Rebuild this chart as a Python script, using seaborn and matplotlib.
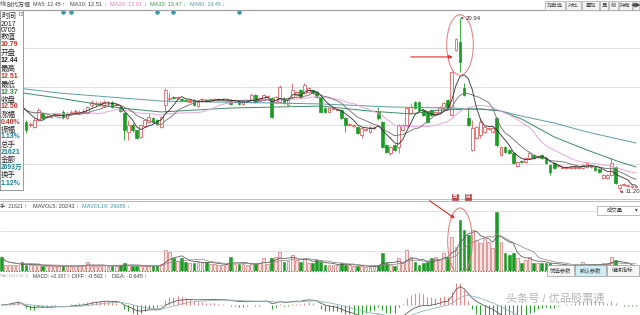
import numpy as np
import pandas as pd
import matplotlib
matplotlib.use("Agg")
import matplotlib.pyplot as plt
import seaborn as sns
from matplotlib.patches import Ellipse, Rectangle
from matplotlib import font_manager

sns.set_theme(style="white")
_names = {f.name for f in font_manager.fontManager.ttflist}
_latin = 'Liberation Sans Narrow' if 'Liberation Sans Narrow' in _names else 'Liberation Sans'
plt.rcParams['font.family'] = [_latin, 'Noto Sans CJK SC', 'DejaVu Sans']
plt.rcParams['axes.unicode_minus'] = False

# ---------------- data ----------------
open_ = [16.00, 15.70, 15.88, 16.05, 16.22, 16.46, 15.12, 14.95, 14.84, 15.23,
         15.62, 15.40, 15.40, 15.51, 15.51, 15.68, 15.34, 15.62, 15.68, 15.62,
         15.68, 15.62, 16.07, 16.13, 16.13, 16.01, 16.13, 16.24, 16.07, 15.96,
         15.62, 14.56, 14.95, 14.67, 14.28, 14.89, 15.12, 15.34, 15.23, 14.84,
         16.07, 16.41, 16.52, 16.46, 16.41, 16.35, 16.24, 16.35, 16.01, 16.29,
         16.35, 16.29, 16.35, 16.35, 16.35, 16.29, 16.35, 16.24, 16.29, 16.13,
         16.29, 16.24, 16.63, 16.29, 16.35, 16.52, 16.46, 16.24, 16.24, 16.46,
         16.07, 16.52, 16.63, 16.91, 16.74, 16.80, 16.91, 16.80, 16.52, 15.90,
         15.68, 15.85, 15.79, 15.79, 15.34, 14.95, 14.89, 14.84, 14.39, 14.67,
         14.56, 14.78, 15.68, 15.12, 13.83, 13.38, 13.83, 13.72, 14.67, 14.95,
         15.62, 16.24, 16.24, 15.79, 15.68, 15.79, 15.51, 15.62, 15.90, 16.35,
         15.51, 19.15, 19.60, 17.02, 15.34, 13.55, 14.22, 14.39, 14.56, 14.73,
         14.56, 15.34, 13.27, 13.72, 13.55, 13.38, 12.65, 12.93, 12.88, 13.10,
         13.27, 13.16, 13.27, 13.10, 12.71, 12.82, 12.65, 12.54, 12.54, 12.54,
         12.54, 12.54, 12.54, 12.60, 12.60, 12.60, 12.48, 11.98, 11.98, 12.15,
         12.60, 11.42, 11.59, 11.53, 11.48, 11.48]
high = [16.10, 15.95, 16.12, 16.30, 16.48, 16.52, 15.23, 15.12, 15.34, 15.90,
        15.68, 15.51, 15.51, 15.62, 15.62, 15.79, 15.68, 15.79, 15.85, 15.79,
        15.85, 16.01, 16.35, 16.29, 16.29, 16.35, 16.29, 16.29, 16.18, 16.01,
        15.68, 15.23, 15.06, 14.73, 15.01, 15.29, 15.62, 15.40, 15.29, 15.45,
        17.02, 16.80, 16.57, 16.57, 16.46, 16.41, 16.41, 16.41, 16.29, 16.41,
        16.41, 16.46, 16.46, 16.46, 16.46, 16.41, 16.41, 16.35, 16.35, 16.35,
        16.41, 16.74, 16.69, 16.52, 16.69, 16.63, 16.52, 16.57, 17.19, 16.52,
        16.52, 17.30, 16.85, 16.96, 17.30, 17.08, 16.96, 16.85, 16.57, 15.96,
        15.96, 15.96, 15.90, 15.85, 15.40, 15.06, 15.01, 14.89, 14.84, 14.78,
        14.89, 14.89, 15.96, 15.17, 13.89, 13.77, 13.89, 15.01, 15.01, 15.96,
        16.18, 16.29, 16.29, 15.85, 15.73, 15.85, 15.73, 16.01, 16.24, 16.41,
        17.97, 19.82, 20.94, 17.30, 15.90, 15.23, 14.89, 15.34, 14.89, 14.84,
        14.84, 15.40, 13.77, 13.77, 13.60, 13.44, 12.93, 12.99, 13.16, 13.44,
        13.33, 13.27, 13.33, 13.16, 12.76, 12.88, 12.76, 12.65, 12.65, 12.65,
        12.65, 12.65, 12.76, 12.88, 12.71, 12.65, 12.54, 12.21, 12.21, 13.10,
        12.65, 11.65, 11.70, 11.65, 11.59, 11.59]
low = [15.62, 15.65, 15.82, 16.00, 16.18, 15.23, 14.50, 14.84, 14.78, 15.17,
       15.29, 15.34, 15.34, 15.45, 15.45, 15.29, 15.29, 15.57, 15.62, 15.57,
       15.62, 15.57, 15.96, 16.01, 16.01, 15.96, 16.01, 15.90, 16.01, 15.68,
       14.11, 14.11, 14.56, 14.17, 14.22, 14.84, 15.06, 15.06, 14.95, 14.78,
       15.68, 16.24, 16.41, 16.41, 16.29, 16.24, 16.18, 16.01, 15.96, 16.24,
       16.24, 16.24, 16.29, 16.29, 16.29, 16.24, 16.07, 16.18, 16.07, 16.07,
       16.24, 16.18, 16.18, 16.24, 16.29, 16.46, 15.34, 16.18, 16.18, 16.13,
       16.01, 16.46, 16.57, 16.46, 16.69, 16.74, 16.69, 16.46, 15.62, 15.62,
       15.62, 15.79, 15.73, 15.29, 14.56, 14.89, 14.84, 14.45, 14.22, 14.61,
       14.50, 14.73, 15.23, 13.66, 13.38, 13.27, 13.49, 13.38, 14.61, 14.84,
       15.57, 15.85, 15.73, 15.45, 15.06, 15.45, 15.45, 15.57, 15.85, 15.90,
       15.45, 19.09, 17.92, 16.57, 14.89, 13.50, 14.17, 14.22, 14.50, 14.67,
       14.50, 13.72, 13.21, 13.38, 13.33, 12.76, 12.60, 12.82, 12.82, 13.05,
       13.05, 13.10, 13.05, 12.76, 12.15, 12.48, 12.60, 12.48, 12.48, 12.48,
       12.48, 12.48, 12.48, 12.54, 12.54, 12.37, 12.26, 11.93, 11.93, 12.09,
       11.65, 11.20, 11.53, 11.48, 11.42, 11.42]
close = [15.70, 15.88, 16.05, 16.22, 16.40, 15.51, 14.67, 15.01, 15.23, 15.79,
         15.34, 15.45, 15.45, 15.57, 15.57, 15.40, 15.57, 15.68, 15.73, 15.68,
         15.73, 15.96, 16.24, 16.18, 16.18, 16.24, 16.18, 15.96, 16.13, 15.73,
         14.67, 14.95, 14.67, 14.22, 14.95, 15.23, 15.40, 15.12, 15.01, 15.40,
         16.91, 16.46, 16.46, 16.52, 16.35, 16.29, 16.35, 16.07, 16.24, 16.35,
         16.29, 16.41, 16.41, 16.41, 16.41, 16.35, 16.13, 16.29, 16.13, 16.29,
         16.35, 16.63, 16.24, 16.46, 16.63, 16.57, 15.40, 16.52, 17.08, 16.18,
         16.46, 16.91, 16.80, 16.52, 17.19, 17.02, 16.74, 16.52, 15.68, 15.68,
         15.90, 15.90, 15.85, 15.34, 14.95, 15.01, 14.95, 14.50, 14.78, 14.73,
         14.84, 14.84, 15.34, 13.72, 13.44, 13.72, 13.55, 14.95, 14.95, 15.90,
         15.96, 15.90, 15.79, 15.51, 15.12, 15.51, 15.68, 15.96, 16.18, 15.96,
         17.92, 19.77, 18.48, 16.63, 14.95, 14.78, 14.84, 15.12, 14.84, 14.78,
         14.78, 13.83, 13.72, 13.44, 13.38, 12.82, 12.88, 12.88, 13.10, 13.38,
         13.10, 13.21, 13.10, 12.82, 12.32, 12.54, 12.71, 12.60, 12.60, 12.60,
         12.60, 12.60, 12.71, 12.82, 12.65, 12.43, 12.32, 12.15, 12.15, 12.82,
         11.70, 11.59, 11.65, 11.59, 11.53, 11.53]
volume = [28000, 12000, 12000, 12000, 12000, 18000, 12000, 12000, 12000, 12000,
          10000, 10000, 10000, 10000, 10000, 10000, 10000, 10000, 10000, 10000,
          12000, 18000, 10000, 10000, 10000, 12000, 10000, 10000, 10000, 12000,
          16000, 12000, 10000, 10000, 10000, 10000, 10000, 10000, 10000, 14000,
          42000, 38000, 26000, 20000, 26000, 18000, 16000, 16000, 18000, 18000,
          18000, 14000, 14000, 12000, 12000, 14000, 28000, 14000, 14000, 14000,
          12000, 16000, 14000, 16000, 26000, 14000, 26000, 28000, 38000, 18000,
          20000, 32000, 22000, 18000, 26000, 16000, 16000, 22000, 18000, 12000,
          12000, 12000, 12000, 16000, 12000, 12000, 10000, 10000, 10000, 8000,
          8000, 10000, 12000, 36000, 16000, 12000, 10000, 26000, 16000, 42000,
          28000, 18000, 12000, 16000, 18000, 26000, 28000, 22000, 36000, 28000,
          68000, 48000, 102000, 82000, 72000, 82000, 62000, 56000, 66000, 58000,
          46000, 118000, 58000, 36000, 32000, 36000, 26000, 16000, 22000, 28000,
          16000, 16000, 16000, 16000, 16000, 12000, 12000, 12000, 10000, 10000,
          10000, 12000, 18000, 12000, 12000, 12000, 12000, 16000, 16000, 28000,
          22000, 12000, 10000, 10000, 8000, 10000]
ma30_idx = [0, 14, 29, 39, 56, 78, 90, 100, 107, 117, 122, 127, 135, 143, 151, 155]
ma30_val = [16.91, 16.46, 15.90, 15.68, 15.90, 16.01, 15.73, 15.57, 15.79, 15.85,
            15.73, 15.29, 14.28, 13.55, 12.88, 12.60]
ma60_idx = [0, 14, 39, 78, 95, 110, 121, 127, 135, 143, 155]
ma60_val = [17.13, 16.74, 16.29, 16.13, 15.96, 15.90, 15.79, 15.45, 15.06, 14.56, 13.94]
event_idx = [15, 17, 38, 42, 58]
price_grid = [12.77, 14.93, 17.09, 19.25]
vol_grid = [40000, 80000, 120000]
info_labels = ['时间', '数值', '开盘', '最高', '最低', '收盘', '涨幅', '振幅', '总手', '金额', '换手']
info_date = ['2017', '0705']
info_values = ['10.79', '12.44', '12.51', '12.37', '12.50', '0.40%', '1.13%', '21621', '2693万', '1.12%']
header_ma = ['MA5: 12.45', 'MA10: 12.51', 'MA20: 12.81', 'MA30: 13.47', 'MA60: 14.45']
header_vol = ['手: 21621', 'MAVOL5: 20243', 'MAVOL10: 29088']
header_macd = ['MACD(12,26,9)', 'MACD: +0.107', 'DIFF: -0.592', 'DEA: -0.645']

# ---------------- derived ----------------
df = pd.DataFrame({'open': open_, 'high': high, 'low': low, 'close': close, 'volume': volume})
n = len(df)
idx = np.arange(n)
df['ma5'] = df['close'].rolling(5, min_periods=1).mean()
df['ma10'] = df['close'].rolling(10, min_periods=1).mean()
df['ma20'] = df['close'].rolling(20, min_periods=1).mean()
df['mv5'] = df['volume'].rolling(5, min_periods=1).mean()
df['mv10'] = df['volume'].rolling(10, min_periods=1).mean()
ema12 = df['close'].ewm(span=12, adjust=False).mean()
ema26 = df['close'].ewm(span=26, adjust=False).mean()
df['diff'] = ema12 - ema26
df['dea'] = df['diff'].ewm(span=9, adjust=False).mean()
df['macd'] = 2 * (df['diff'] - df['dea'])

o = df['open'].to_numpy(); c = df['close'].to_numpy()
h = df['high'].to_numpy(); l = df['low'].to_numpy()
v = df['volume'].to_numpy()
up = c >= o

RED = '#e06060'
GREEN = '#1c9c24'
W, H = 640, 315

fig = plt.figure(figsize=(6.4, 3.15), dpi=100)
fig.patch.set_facecolor('white')
renderer = fig.canvas.get_renderer()


def rect(x0, y0, x1, y1):
    return [x0 / W, 1 - y1 / H, (x1 - x0) / W, (y1 - y0) / H]


def ft(x, y, s, size=4.3, color='#3a3a3a', ha='left', weight='normal', **kw):
    return fig.text(x / W, 1 - y / H, s, fontsize=size, color=color, ha=ha, va='center',
                    fontweight=weight, zorder=12, **kw)


def fit(x0, x1, y, s, color='#3a3a3a', size=4.6, arrow=None, acolor='#e03030'):
    """Text from x0 that is shrunk to end by x1, then an arrow right after it."""
    t = ft(x0, y, s, size=size, color=color)
    w = t.get_window_extent(renderer=renderer).width
    if w > (x1 - x0):
        t.set_fontsize(size * (x1 - x0) / w)
    if arrow:
        xe = t.get_window_extent(renderer=renderer).x1
        ft(xe + 0.6, y, arrow, size=size, color=acolor)
    return t


def prect(x0, y0, x1, y1, fc='white', ec='#a0a0a0', lw=0.5, z=11):
    fig.add_artist(Rectangle((x0 / W, 1 - y1 / H), (x1 - x0) / W, (y1 - y0) / H,
                             transform=fig.transFigure, facecolor=fc, edgecolor=ec,
                             linewidth=lw, zorder=z))


XL = (-0.37, 155.97)
ax = fig.add_axes(rect(0, 10, 640, 199))
axv = fig.add_axes(rect(0, 201, 640, 271))
axm = fig.add_axes(rect(0, 272, 640, 315))

# ---------------- price panel ----------------
ax.vlines(idx, l, h, colors=np.where(up, RED, GREEN), lw=0.6, zorder=2)
ax.bar(idx[up], np.maximum(c[up] - o[up], 0.025), bottom=o[up], width=0.68,
       facecolor='white', edgecolor=RED, linewidth=0.6, zorder=3)
ax.bar(idx[~up], np.maximum(o[~up] - c[~up], 0.025), bottom=c[~up], width=0.68,
       facecolor=GREEN, edgecolor=GREEN, linewidth=0.5, zorder=3)
sns.lineplot(x=ma60_idx, y=ma60_val, ax=ax, color='#5f9ca4', lw=0.7, zorder=4)
sns.lineplot(x=ma30_idx, y=ma30_val, ax=ax, color='#3f8a66', lw=0.7, zorder=4)
sns.lineplot(x=idx, y=df['ma20'], ax=ax, color='#e8a6d8', lw=0.7, zorder=4)
sns.lineplot(x=idx, y=df['ma10'], ax=ax, color='#6e6e6e', lw=0.6, zorder=4)
sns.lineplot(x=idx, y=df['ma5'], ax=ax, color='#2e2e2e', lw=0.6, zorder=4)
ax.plot(event_idx, [0.988] * len(event_idx), ls='none', marker='D', ms=2.0,
        color='#3a9aa8', transform=ax.get_xaxis_transform(), clip_on=False, zorder=5)

ax.set_xlim(*XL)
ax.set_ylim(10.806, 21.388)
ax.set_yticks(price_grid)
ax.grid(axis='y', color='#dadada', lw=0.6)
ax.tick_params(left=False, labelleft=False, bottom=False, labelbottom=False)
ax.set_xlabel(''); ax.set_ylabel('')
for s in ['left', 'right']:
    ax.spines[s].set_visible(False)
ax.spines['top'].set_color('#9a9a9a'); ax.spines['top'].set_linewidth(0.8)
ax.spines['bottom'].set_color('#b8b8b8'); ax.spines['bottom'].set_linewidth(0.6)

spike = int(np.argmax(h))
lowi = int(np.argmin(l))
ax.add_patch(Ellipse((spike, (h[spike] + l[spike]) / 2), width=6.5,
                     height=(h[spike] - l[spike]) * 1.12, fill=False,
                     edgecolor='#e07878', lw=0.7, zorder=6))
ax.annotate('', xy=(spike - 1.1, c[spike] + 0.28), xytext=(spike - 12.7, c[spike] + 0.28),
            arrowprops=dict(arrowstyle='-|>', color='#e03030', lw=0.8, mutation_scale=5), zorder=6)
ax.annotate(f'{h[spike]:.2f}', xy=(spike + 0.15, h[spike]), xytext=(spike + 1.4, h[spike]),
            fontsize=4.3, color='#333333', va='center',
            arrowprops=dict(arrowstyle='->', color='#333333', lw=0.5, mutation_scale=3), zorder=6)
ax.annotate(f'{l[lowi]:.2f}', xy=(lowi + 0.2, l[lowi]), xytext=(lowi + 1.5, l[lowi]),
            fontsize=4.3, color='#333333', va='center', annotation_clip=False,
            arrowprops=dict(arrowstyle='->', color='#333333', lw=0.5, mutation_scale=3), zorder=6)

# ---------------- volume panel ----------------
axv.bar(idx[up], v[up], width=0.68, facecolor='#f8e4e4', edgecolor='#d87878', linewidth=0.5, zorder=3)
axv.bar(idx[~up], v[~up], width=0.68, facecolor=GREEN, edgecolor=GREEN, linewidth=0.4, zorder=3)
sns.lineplot(x=idx, y=df['mv5'], ax=axv, color='#555555', lw=0.55, zorder=4)
sns.lineplot(x=idx, y=df['mv10'], ax=axv, color='#8a8a8a', lw=0.55, zorder=4)
axv.set_xlim(*XL)
axv.set_ylim(0, 140000)
axv.set_yticks(vol_grid)
axv.grid(axis='y', color='#dadada', lw=0.6)
axv.tick_params(left=False, labelleft=False, bottom=False, labelbottom=False)
axv.set_xlabel(''); axv.set_ylabel('')
for s in ['left', 'right', 'bottom']:
    axv.spines[s].set_visible(False)
axv.spines['top'].set_color('#b0b0b0'); axv.spines['top'].set_linewidth(0.6)
axv.axhline(0, color='#2ea02e', lw=0.8, ls=(0, (1.2, 1.2)), zorder=5, clip_on=False)
axv.add_patch(Ellipse((spike, v[spike] * 0.58), width=6.0, height=v[spike] * 1.31,
                      fill=False, edgecolor='#e07878', lw=0.7, zorder=6, clip_on=False))
axv.annotate('', xy=(spike - 0.7, v[spike]), xytext=(spike - 8, v[spike] * 1.41),
             annotation_clip=False,
             arrowprops=dict(arrowstyle='-|>', color='#e03030', lw=0.8, mutation_scale=5), zorder=6)

# ---------------- MACD panel ----------------
mv = df['macd'].to_numpy()
axm.vlines(idx, 0, mv, colors=np.where(mv >= 0, '#e48a8a', '#2ea02e'), lw=0.8, zorder=3)
sns.lineplot(x=idx, y=df['diff'], ax=axm, color='#5a5a5a', lw=0.6, zorder=4)
sns.lineplot(x=idx, y=df['dea'], ax=axm, color='#8fb4bc', lw=0.6, zorder=4)
M = max(df['diff'].max(), df['macd'].max())
top = M * 33 / 22
axm.set_xlim(*XL)
axm.set_ylim(-top * 10 / 33, top)
axm.tick_params(left=False, labelleft=False, bottom=False, labelbottom=False)
axm.set_xlabel(''); axm.set_ylabel('')
for s in axm.spines.values():
    s.set_visible(False)

# ---------------- texts / chrome ----------------
ft(0, 5, '线', size=4.4)
fit(7, 31, 5, '时代万恒', size=4.4)
ma_span = [(33, 61), (70, 102), (110, 142), (150, 181), (190, 221)]
ma_col = ['#404040', '#404040', '#e07cc4', '#3a9a4a', '#5a90a8']
for i, s in enumerate(header_ma):
    fit(ma_span[i][0], ma_span[i][1], 5, s, color=ma_col[i],
        arrow='↑' if i == 0 else '↓', acolor='#e03030' if i == 0 else '#48b8b0')
fig.add_artist(plt.Line2D([0, 1], [1 - 10 / H] * 2, transform=fig.transFigure,
                          color='#a0a0a0', lw=0.8, zorder=10))

btn = ['加自选', '对比', '叠加', '显', '前', '持牌', '◀▶']
bx = [545, 566, 582, 600, 609, 619, 633, 640]
for i, s in enumerate(btn):
    prect(bx[i], 1, bx[i + 1] - 1, 9.5, fc='#f4f4f4', ec='#a8a8a8')
    ft((bx[i] + bx[i + 1] - 1) / 2, 5.3, s, size=3.8, ha='center', color='#404040')

# info panel overlay
axi = fig.add_axes(rect(0, 10, 23, 190), zorder=8)
axi.set_facecolor('white')
axi.set_xticks([]); axi.set_yticks([])
for s in axi.spines.values():
    s.set_color('#8a8a8a'); s.set_linewidth(0.6)
lab_y = [16, 37, 53, 69, 85, 100, 115, 130, 145, 160, 175]
val_y = [45, 61, 77, 92, 107, 122, 137, 152, 167, 183]
val_col = ['#c83232', '#222222', '#c83232', '#1f8f2f', '#c83232', '#c83232',
           '#1a7f9a', '#1a7f9a', '#1a7f9a', '#1a7f9a']
for s, y in zip(info_labels, lab_y):
    ft(1, y, s, size=5.4, color='#303030')
fit(1, 18, 24, info_date[0], size=5.0, color='#202020')
fit(1, 18, 30.5, info_date[1], size=5.0, color='#202020')
for s, y, col in zip(info_values, val_y, val_col):
    t = fit(0.8, 22.5, y, s, size=5.0, color=col)
    t.set_fontweight('bold')
prect(19, 11.5, 22, 14.5, fc='white', ec='#707070', lw=0.4, z=13)

# volume header
fit(0, 23, 207, header_vol[0], color='#404040', arrow='↑')
fit(33, 74, 207, header_vol[1], color='#404040', arrow='↓', acolor='#48b8b0')
fit(82, 125, 207, header_vol[2], color='#3a9aa8', arrow='↓', acolor='#48b8b0')
prect(597, 205.5, 640, 214.5, fc='white', ec='#a0a0a0')
ft(615, 210, '成交量', size=3.9, ha='center', color='#404040')
ft(636, 210, '▾', size=4.0, ha='center', color='#404040')
prect(452, 194, 458, 200, fc='#b84848', ec='#b84848', z=11)
ft(455, 197, '西', size=3.2, ha='center', color='white')
prect(465, 194, 471, 200, fc='#b84848', ec='#b84848', z=11)
ft(468, 197, '砥', size=3.2, ha='center', color='white')

# MACD header & buttons
fit(0, 30, 276, header_macd[0], color='#b0b0b0', size=4.2)
fit(33, 66, 276, header_macd[1], color='#404040', arrow='↑')
fit(72, 103, 276, header_macd[2], color='#404040', arrow='↑')
fit(112, 143, 276, header_macd[3], color='#404040', arrow='↑')
bt = ['优选参数', '默认参数', '编辑指标']
bt_x = [547, 575, 607, 640]
bt_fc = ['#f6f6f6', '#cdeef6', '#f6f6f6']
for i, s in enumerate(bt):
    prect(bt_x[i], 265, bt_x[i + 1] - 1, 276, fc=bt_fc[i], ec='#9a9a9a')
    ft((bt_x[i] + bt_x[i + 1] - 1) / 2, 270.5, s, size=3.9, ha='center', color='#404040')

ft(555, 299, '头条号 / 优品股票通', size=8, ha='center', color='#b4b4b4')

fig.savefig('out.png', dpi=100, facecolor='white')
